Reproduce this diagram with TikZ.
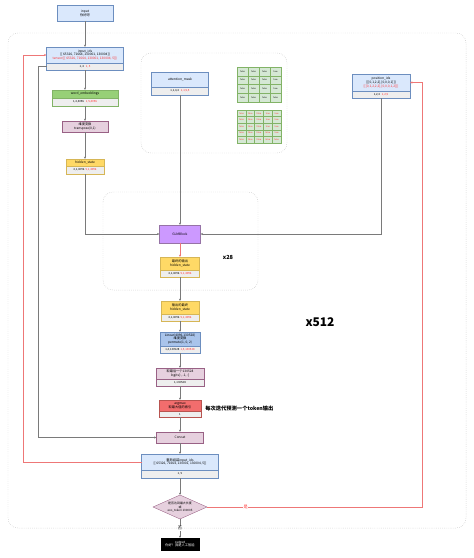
\documentclass[tikz,border=0pt]{standalone}
\usepackage{fontspec}
\setmainfont{Noto Sans CJK SC}
\usetikzlibrary{positioning,shapes.geometric,arrows.meta}

\definecolor{cBlue}{HTML}{DAE8FC}
\definecolor{bBlue}{HTML}{6C8EBF}
\definecolor{cLin}{HTML}{A9C4EB}
\definecolor{cGreen}{HTML}{97D077}
\definecolor{cCell}{HTML}{D5E8D4}
\definecolor{bGreen}{HTML}{82B366}
\definecolor{cPink}{HTML}{E6D0DE}
\definecolor{bPink}{HTML}{996185}
\definecolor{cYellow}{HTML}{FFD966}
\definecolor{bYellow}{HTML}{D6B656}
\definecolor{cPurple}{HTML}{CC99FF}
\definecolor{bPurple}{HTML}{9673A6}
\definecolor{cRed}{HTML}{F26D6D}
\definecolor{bRed}{HTML}{B85450}
\definecolor{cFoot}{HTML}{EEEEEE}
\definecolor{cRedT}{HTML}{FF3333}
\definecolor{cLine}{HTML}{7A7A7A}
\definecolor{cRLine}{HTML}{EE7777}

\begin{document}
\begin{tikzpicture}[x=0.5mm,y=-0.5mm,
    every node/.style={font=\fontsize{4.6}{5.4}\selectfont, inner sep=0.5pt, outer sep=0pt, align=center},
    wd/.style={minimum width=#1*0.5mm},
    ht/.style={minimum height=#1*0.5mm},
    head/.style 2 args={draw=#2, fill=#1, line width=0.5pt},
    foot/.style={draw=#1, fill=cFoot, line width=0.5pt, font=\fontsize{4}{4.8}\selectfont},
    cell/.style={draw=bGreen, fill=cCell, line width=0.3pt, font=\fontsize{3}{3.5}\selectfont},
    frame/.style={draw=gray!55, dotted, line width=0.7pt, rounded corners=5mm},
    gline/.style={draw=cLine, line width=0.8pt, -{Stealth[length=3.5pt,width=3pt]}},
    rline/.style={draw=cRLine, line width=0.9pt, -{Stealth[length=3.5pt,width=3pt]}},
    big/.style={font=\fontsize{#1}{#1}\selectfont\bfseries}]

    \useasboundingbox (0,0) rectangle (474,558);

    \draw[frame] (8,33) rectangle (466,528);
    \draw[frame] (141,53) rectangle (287,153);
    \draw[frame] (103,192) rectangle (258,290);

    \node[head={cBlue}{bBlue}, wd=56, ht=16] (input) at (85,13) {input\\你好呀};

    \node[head={cBlue}{bBlue}, wd=77, ht=16] (ids) at (85,55)
        {input\_ids\\{}[[ 65326, 71664, 130001, 130004]]\\\textcolor{cRedT}{tensor([[ 65326, 71664, 130001, 130004, 5]])}};
    \node[foot=bBlue, wd=77, ht=7, below=0pt of ids] (ids-f) {1, 4~~~\textcolor{cRedT}{1, 5}};

    \node[head={cGreen}{bGreen}, wd=66, ht=8] (we) at (85,94) {word\_embeddings};
    \node[foot=bGreen, wd=66, ht=8, below=0pt of we] (we-f) {1,4,4096~~~\textcolor{cRedT}{1,5,4096}};

    \node[head={cPink}{bPink}, wd=46, ht=11] (tr) at (85,126.5) {维度变换\\transpose(0,1)};

    \node[head={cYellow}{bYellow}, wd=38, ht=7] (hs) at (85,162.5) {hidden\_state};
    \node[foot=bYellow, wd=38, ht=8, below=0pt of hs] (hs-f) {4,1,4096~~\textcolor{cRedT}{5,1,4096}};

    \node[head={cBlue}{bBlue}, wd=57, ht=15] (am) at (180,79.5) {attention\_mask};
    \node[foot=bBlue, wd=57, ht=8, below=0pt of am] (am-f) {1,1,4,4~~~\textcolor{cRedT}{1,1,5,5}};

    \foreach \r in {0,...,3}{
        \foreach \c in {0,...,3}{
            \pgfmathtruncatemacro\t{and(\c>2,\c>\r)}
            \node[cell, wd=11, ht=8.75] (ma-\r-\c) at ({242.5+11*\c},{71.375+8.75*\r})
                {\ifnum\t=1 true\else false\fi};
        }
    }
    \foreach \r in {0,...,4}{
        \foreach \c in {0,...,4}{
            \pgfmathtruncatemacro\t{and(\c>2,\c>\r)}
            \node[cell, wd=8.8, ht=6.6, text=cRedT] (mb-\r-\c) at ({241.4+8.8*\c},{113.3+6.6*\r})
                {\ifnum\t=1 true\else false\fi};
        }
    }

    \node[head={cBlue}{bBlue}, wd=58, ht=17] (pos) at (381,82.5)
        {position\_ids\\{}[[[0,1,2,2],[0,0,0,1]]]\\\textcolor{cRedT}{[[[0,1,2,2,2],[0,0,0,1,2]]]}};
    \node[foot=bBlue, wd=58, ht=7, below=0pt of pos] (pos-f) {1,2,4~~~\textcolor{cRedT}{1,2,5}};

    \node[head={cPurple}{bPurple}, wd=41, ht=18] (glm) at (180,234) {GLMBlock};
    \node[big=8] (n28) at (228,257) {x28};

    \node[head={cYellow}{bYellow}, wd=39, ht=13] (fh) at (180,263.5) {最终的输出\\hidden\_state};
    \node[foot=bYellow, wd=39, ht=7, below=0pt of fh] (fh-f) {4,1,4096~~\textcolor{cRedT}{5,1,4096}};

    \node[big=17] (n512) at (320,322) {x512};

    \node[head={cYellow}{bYellow}, wd=38, ht=13] (oh) at (180,307.5) {输出的最终\\hidden\_state};
    \node[foot=bYellow, wd=38, ht=7, below=0pt of oh] (oh-f) {4,1,4096~~\textcolor{cRedT}{5,1,4096}};

    \node[head={cLin}{bBlue}, wd=40, ht=14] (lin) at (180,339) {Linear(4096,130528)\\维度变换\\permute(1, 0, 2)};
    \node[foot=bBlue, wd=40, ht=7, below=0pt of lin] (lin-f) {1,4,130528~~\textcolor{cRedT}{1,5,130528}};

    \node[head={cPink}{bPink}, wd=48, ht=11] (lg) at (180,373.5) {取最后一个130528\\logits[:, -1, :]};
    \node[foot=bPink, wd=48, ht=7, below=0pt of lg] (lg-f) {1,130528};

    \node[head={cRed}{bRed}, wd=42, ht=11] (amax) at (180,405.5) {argmax\\取最大值的索引};
    \node[foot=bRed, wd=42, ht=6, below=0pt of amax] (amax-f) {1};
    \node[big=7.5, anchor=west] (note) at (205,408) {每次迭代预测一个token输出};

    \node[head={cPink}{bPink}, wd=47, ht=11] (cat) at (180,437.5) {Concat};

    \node[head={cBlue}{bBlue}, wd=77, ht=16] (re) at (180,462)
        {重新组装input\_ids\\{}[[ 65326, 71664, 130001, 130004, 5]]};
    \node[foot=bBlue, wd=77, ht=8, below=0pt of re] (re-f) {1, 5};

    \node[diamond, aspect=2.25, draw=bPink, fill=cPink, line width=0.5pt, inner sep=0pt,
          wd=54, ht=24, font=\fontsize{4.2}{4.8}\selectfont] (dec) at (180,507)
        {是否达到最大长度\\或\\eos\_token 130005};

    \node[head={black}{black}, wd=38, ht=12, text=white] (out) at (180,544) {output\\你好！我是人工智能};

    \draw[gline] (input) -- (ids);
    \draw[gline] (ids-f) -- (we);
    \draw[gline] (we-f) -- (tr);
    \draw[gline] (tr) -- (hs);
    \draw[gline] (hs-f.south) |- (glm.west);
    \draw[gline] (ids-f.west) -- ++(-8,0) |- (cat.west);
    \draw[gline] (am-f.south) -- (glm.north);
    \draw[gline] (pos-f.south) |- (glm.east);
    \draw[rline] (glm) -- (fh);
    \draw[gline] (fh-f) -- (oh);
    \draw[gline] (oh-f) -- (lin);
    \draw[gline] (lin-f) -- (lg);
    \draw[gline] (lg-f) -- (amax);
    \draw[gline] (amax-f) -- (cat);
    \draw[gline] (cat) -- (re);
    \draw[gline] (re-f) -- (dec);
    \draw[rline] (re.west) -- ++(-118,0) |- (ids.west);
    \draw[rline] (dec.east) -- node[pos=0.18, fill=white, text=cRedT, font=\fontsize{6}{6}\selectfont] {是} ++(215,0) |- (pos.east);
    \draw[gline] (dec) -- node[fill=white, font=\fontsize{6}{6}\selectfont] {否} (out);
\end{tikzpicture}
\end{document}
